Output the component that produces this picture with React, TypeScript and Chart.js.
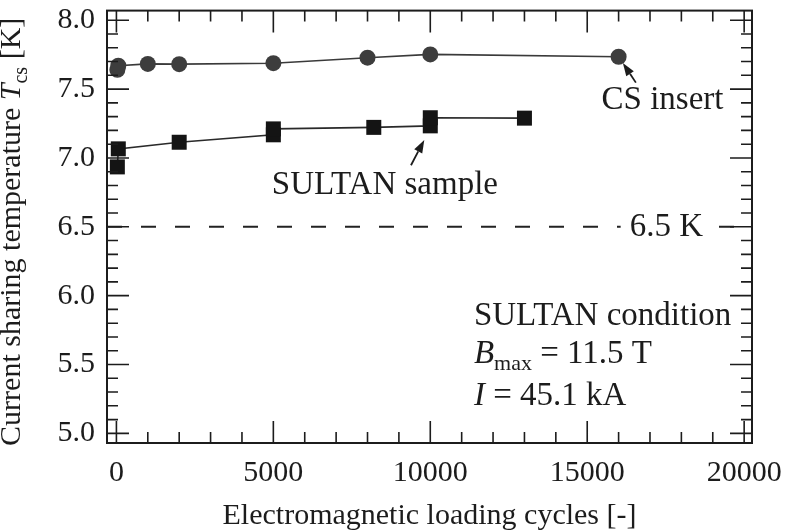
import React, { useEffect, useRef } from "react";
import { Chart, registerables } from "chart.js";

Chart.register(...registerables);

// ---- data ----
const csCycles = [30, 60, 1000, 2000, 5000, 8000, 10000, 16000];
const csTcs = [7.64, 7.67, 7.683, 7.681, 7.688, 7.728, 7.752, 7.735];

const sultanCycles = [30, 60, 2000, 5000, 5000, 8200, 10000, 10000, 13000];
const sultanTcs = [6.935, 7.066, 7.114, 7.168, 7.211, 7.222, 7.233, 7.292, 7.289];

const limitTcs = 6.5;

const xRange = [-300, 20250];
const yRange = [4.93, 8.07];
const xMajorTicks = [0, 5000, 10000, 15000, 20000];
const yMajorTicks = [5.0, 5.5, 6.0, 6.5, 7.0, 7.5, 8.0];
const xMinorStep = 1000;
const yMinorStep = 0.1;

const FONT = "'Liberation Serif', 'DejaVu Serif', serif";
const INK = "#1c1c1c";

function arrow(ctx: CanvasRenderingContext2D, x1: number, y1: number, x2: number, y2: number) {
  const ang = Math.atan2(y2 - y1, x2 - x1);
  const hl = 13;
  const hw = 4.5;
  const bx = x2 - hl * Math.cos(ang);
  const by = y2 - hl * Math.sin(ang);
  ctx.beginPath();
  ctx.moveTo(x1, y1);
  ctx.lineTo(bx, by);
  ctx.lineWidth = 1.8;
  ctx.stroke();
  ctx.beginPath();
  ctx.moveTo(x2, y2);
  ctx.lineTo(bx + hw * Math.sin(ang), by - hw * Math.cos(ang));
  ctx.lineTo(bx - hw * Math.sin(ang), by + hw * Math.cos(ang));
  ctx.closePath();
  ctx.fill();
}

const decor = {
  id: "decor",
  afterDatasetsDraw(chart: any) {
    const { ctx, chartArea: a, scales } = chart;
    const xs = scales.x;
    const ys = scales.y;
    const px = (v: number) => xs.getPixelForValue(v);
    const py = (v: number) => ys.getPixelForValue(v);
    ctx.save();
    ctx.fillStyle = INK;
    ctx.strokeStyle = INK;

    // "6.5 K" label on the dashed line
    ctx.font = `33px ${FONT}`;
    ctx.textAlign = "center";
    ctx.textBaseline = "middle";
    const lblW = ctx.measureText("6.5 K").width;
    ctx.fillStyle = "#ffffff";
    ctx.fillRect(px(17520) - lblW / 2 - 9, py(limitTcs) - 6, lblW + 12, 12);
    ctx.fillStyle = INK;
    ctx.fillText("6.5 K", px(17520), py(limitTcs) + 1);

    // frame
    ctx.lineWidth = 2;
    ctx.strokeRect(a.left, a.top, a.right - a.left, a.bottom - a.top);

    // inward ticks on all four sides
    ctx.lineWidth = 1.6;
    const majL = 22;
    const minL = 11;
    ctx.beginPath();
    for (let v = xMajorTicks[0]; v <= xMajorTicks[xMajorTicks.length - 1] + 1; v += xMinorStep) {
      const major = xMajorTicks.some((m) => Math.abs(m - v) < 1);
      const L = major ? majL : minL;
      const x = px(v);
      ctx.moveTo(x, a.bottom);
      ctx.lineTo(x, a.bottom - L);
      ctx.moveTo(x, a.top);
      ctx.lineTo(x, a.top + L);
    }
    const yStart = yMajorTicks[0];
    const yEnd = yMajorTicks[yMajorTicks.length - 1];
    for (let k = 0; yStart + k * yMinorStep <= yEnd + 1e-6; k++) {
      const v = yStart + k * yMinorStep;
      const major = yMajorTicks.some((m) => Math.abs(m - v) < 1e-6);
      const L = major ? majL : minL;
      const y = py(v);
      ctx.moveTo(a.left, y);
      ctx.lineTo(a.left + L, y);
      ctx.moveTo(a.right, y);
      ctx.lineTo(a.right - L, y);
    }
    ctx.stroke();

    // x title
    ctx.font = `30px ${FONT}`;
    ctx.textAlign = "center";
    ctx.textBaseline = "middle";
    ctx.fillText("Electromagnetic loading cycles [-]", (a.left + a.right) / 2, a.bottom + 73);

    // y title (rotated, with italic T and subscript cs)
    const parts: [string, string, number][] = [
      ["Current sharing temperature ", `30px ${FONT}`, 0],
      ["T", `italic 30px ${FONT}`, 0],
      ["cs", `20px ${FONT}`, 7],
      [" [K]", `30px ${FONT}`, 0],
    ];
    let total = 0;
    for (const [t, f] of parts) {
      ctx.font = f;
      total += ctx.measureText(t).width;
    }
    ctx.save();
    ctx.translate(a.left - 87, (a.top + a.bottom) / 2 + 5);
    ctx.rotate(-Math.PI / 2);
    ctx.textAlign = "left";
    ctx.textBaseline = "alphabetic";
    let cx = -total / 2;
    for (const [t, f, dy] of parts) {
      ctx.font = f;
      ctx.fillText(t, cx, dy);
      cx += ctx.measureText(t).width;
    }
    ctx.restore();

    // annotations
    ctx.font = `33px ${FONT}`;
    ctx.textAlign = "center";
    ctx.textBaseline = "middle";
    ctx.fillText("CS insert", px(17400), py(7.42));
    ctx.textAlign = "left";
    ctx.textBaseline = "alphabetic";
    ctx.fillText("SULTAN sample", px(4950), py(6.735));

    arrow(ctx, px(16550), py(7.547), px(16136), py(7.69));
    arrow(ctx, px(9385), py(6.947), px(9809), py(7.131));

    // SULTAN condition block
    const lx = px(11390);
    ctx.textAlign = "left";
    ctx.textBaseline = "alphabetic";
    ctx.font = `33px ${FONT}`;
    ctx.fillText("SULTAN condition", lx, py(5.79));
    let bx = lx;
    ctx.font = `italic 33px ${FONT}`;
    ctx.fillText("B", bx, py(5.511));
    bx += ctx.measureText("B").width;
    ctx.font = `22px ${FONT}`;
    ctx.fillText("max", bx, py(5.511) + 7);
    bx += ctx.measureText("max").width;
    ctx.font = `33px ${FONT}`;
    ctx.fillText(" = 11.5 T", bx, py(5.511));
    let ix = lx;
    ctx.font = `italic 33px ${FONT}`;
    ctx.fillText("I", ix, py(5.203));
    ix += ctx.measureText("I").width;
    ctx.font = `33px ${FONT}`;
    ctx.fillText(" = 45.1 kA", ix, py(5.203));

    ctx.restore();
  },
};

export default function App() {
  const ref = useRef<HTMLCanvasElement>(null);
  useEffect(() => {
    const chart = new Chart(ref.current as HTMLCanvasElement, {
      type: "scatter",
      data: {
        datasets: [
          {
            label: "CS insert",
            data: csCycles.map((x, i) => ({ x, y: csTcs[i] })),
            showLine: true,
            borderColor: "#3a3a3a",
            borderWidth: 1.6,
            backgroundColor: "#3d3d3d",
            pointStyle: "circle",
            pointRadius: 8,
            pointBorderWidth: 0,
            clip: false,
          } as any,
          {
            label: "SULTAN sample",
            data: sultanCycles.map((x, i) => ({ x, y: sultanTcs[i] })),
            showLine: true,
            borderColor: "#2a2a2a",
            borderWidth: 1.6,
            backgroundColor: "#141414",
            pointStyle: "rect",
            pointRadius: 10.6,
            pointBorderWidth: 0,
            clip: false,
          } as any,
          {
            label: "6.5 K",
            data: xRange.map((x) => ({ x, y: limitTcs })),
            showLine: true,
            borderColor: "#222222",
            borderWidth: 2,
            borderDash: [15, 19],
            pointRadius: 0,
          } as any,
        ],
      },
      options: {
        animation: false,
        responsive: true,
        maintainAspectRatio: false,
        layout: { padding: { top: 5, right: 33, left: 0, bottom: 0 } },
        plugins: { legend: { display: false }, tooltip: { enabled: false } },
        scales: {
          x: {
            type: "linear",
            min: xRange[0],
            max: xRange[1],
            grid: { display: false, drawTicks: false },
            border: { display: false },
            afterBuildTicks: (s: any) => {
              s.ticks = xMajorTicks.map((v) => ({ value: v }));
            },
            afterFit: (s: any) => {
              s.height = 89;
              s.paddingLeft = 0;
              s.paddingRight = 0;
              s.paddingTop = 0;
              s.paddingBottom = 0;
            },
            ticks: {
              font: { family: FONT, size: 30 },
              color: INK,
              padding: 12,
              maxRotation: 0,
              autoSkip: false,
              callback: (v: any) => String(v),
            },
          },
          y: {
            type: "linear",
            min: yRange[0],
            max: yRange[1],
            grid: { display: false, drawTicks: false },
            border: { display: false },
            afterBuildTicks: (s: any) => {
              s.ticks = yMajorTicks.map((v) => ({ value: v }));
            },
            afterFit: (s: any) => {
              s.width = 107;
              s.paddingLeft = 0;
              s.paddingRight = 0;
              s.paddingTop = 0;
              s.paddingBottom = 0;
            },
            ticks: {
              font: { family: FONT, size: 30 },
              color: INK,
              padding: 12,
              autoSkip: false,
              callback: (v: any) => Number(v).toFixed(1),
            },
          },
        },
      } as any,
      plugins: [decor],
    });
    return () => chart.destroy();
  }, []);
  return (
    <div style={{ position: "fixed", left: 0, top: 0, width: 785, height: 532, background: "#fff" }}>
      <canvas ref={ref} />
    </div>
  );
}
